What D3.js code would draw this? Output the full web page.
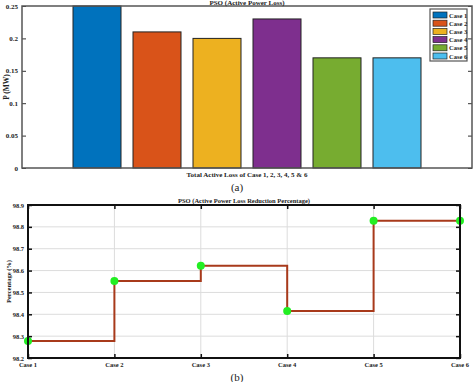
<!DOCTYPE html>
<html>
<head>
<meta charset="utf-8">
<script src="https://cdn.jsdelivr.net/npm/d3@7"></script>
<style>
  body { margin: 0; background: #fff; }
  svg { display: block; }
  text { font-family: "Liberation Serif", "DejaVu Serif", serif; font-weight: bold; fill: #222; }
</style>
</head>
<body>
<svg id="chart" width="474" height="382"></svg>
<script>
// datos del grafico (a)
const cases = ["Case 1", "Case 2", "Case 3", "Case 4", "Case 5", "Case 6"];
const lossMW = [0.25, 0.21, 0.20, 0.23, 0.17, 0.17];
const barColors = ["#0072bd", "#d95319", "#edb120", "#7e2f8e", "#77ac30", "#4dbeee"];
const lossTicks = [0, 0.05, 0.1, 0.15, 0.2, 0.25];

// datos del grafico (b)
const reductionPct = [98.278, 98.552, 98.622, 98.415, 98.828, 98.828];
const pctTicks = [98.2, 98.3, 98.4, 98.5, 98.6, 98.7, 98.8, 98.9];

const svg = d3.select("#chart");

// ---------- (a) barras ----------
const a = { left: 22, right: 472, top: 6, bottom: 168 };
const xa = d3.scaleLinear().domain([-0.25, 7.25]).range([a.left, a.right]);
const ya = d3.scaleLinear().domain([0, 0.25]).range([a.bottom, a.top]);
const ga = svg.append("g");

ga.selectAll("rect.bar")
  .data(lossMW)
  .enter()
  .append("rect")
  .attr("class", "bar")
  .attr("x", (d, i) => xa(i + 1 - 0.4))
  .attr("width", xa(0.8) - xa(0))
  .attr("y", d => ya(d))
  .attr("height", d => ya(0) - ya(d))
  .style("fill", (d, i) => barColors[i])
  .style("stroke", "#222")
  .style("stroke-width", 1);

// ejes izquierdo y derecho con ticks hacia dentro
ga.append("g")
  .attr("transform", `translate(${a.left},0)`)
  .call(d3.axisRight(ya).tickValues(lossTicks).tickSize(4).tickFormat(""))
  .call(g => g.select(".domain").remove())
  .call(g => g.selectAll("line").style("stroke", "#333"));
ga.append("g")
  .attr("transform", `translate(${a.right},0)`)
  .call(d3.axisLeft(ya).tickValues(lossTicks).tickSize(4).tickFormat(""))
  .call(g => g.select(".domain").remove())
  .call(g => g.selectAll("line").style("stroke", "#333"));

ga.selectAll("text.ytick")
  .data(lossTicks)
  .enter()
  .append("text")
  .attr("class", "ytick")
  .attr("x", a.left - 4)
  .attr("y", d => ya(d) + 2.5)
  .attr("text-anchor", "end")
  .style("font-size", "7px")
  .text(d => d3.format("")(d));

ga.append("rect")
  .attr("x", a.left).attr("y", a.top)
  .attr("width", a.right - a.left).attr("height", a.bottom - a.top)
  .style("fill", "none").style("stroke", "#555").style("stroke-width", 1.5);

ga.append("text")
  .attr("x", 247).attr("y", 4.5)
  .attr("text-anchor", "middle")
  .style("font-size", "7px")
  .text("PSO (Active Power Loss)");

ga.append("text")
  .attr("x", 247).attr("y", 177)
  .attr("text-anchor", "middle")
  .style("font-size", "7px")
  .text("Total Active Loss of Case 1, 2, 3, 4, 5 & 6");

ga.append("text")
  .attr("transform", `translate(9,${(a.top + a.bottom) / 2}) rotate(-90)`)
  .attr("text-anchor", "middle")
  .style("font-size", "7.5px")
  .text("P (MW)");

// leyenda
const leg = ga.append("g").attr("transform", "translate(430,9)");
leg.append("rect")
  .attr("width", 37).attr("height", 52)
  .style("fill", "#fff").style("stroke", "#555").style("stroke-width", 1.2);
const items = leg.selectAll("g.item")
  .data(cases)
  .enter()
  .append("g")
  .attr("class", "item")
  .attr("transform", (d, i) => `translate(3,${3 + i * 8.2})`);
items.append("rect")
  .attr("width", 14).attr("height", 6)
  .style("fill", (d, i) => barColors[i])
  .style("stroke", "#222").style("stroke-width", 0.7);
items.append("text")
  .attr("x", 16).attr("y", 5.5)
  .style("font-size", "6.5px")
  .text(d => d);

svg.append("text")
  .attr("x", 237).attr("y", 191)
  .attr("text-anchor", "middle")
  .style("font-size", "11px")
  .style("font-weight", "normal")
  .text("(a)");

// ---------- (b) escalones ----------
const b = { left: 28, right: 460, top: 205, bottom: 358 };
const xb = d3.scalePoint().domain(cases).range([b.left, b.right]);
const yb = d3.scaleLinear().domain([98.2, 98.9]).range([b.bottom, b.top]);
const gb = svg.append("g");

// rejilla
gb.selectAll("line.hgrid")
  .data(pctTicks)
  .enter()
  .append("line")
  .attr("x1", b.left).attr("x2", b.right)
  .attr("y1", d => yb(d)).attr("y2", d => yb(d))
  .style("stroke", "#dcdcdc").style("stroke-width", 1);
gb.selectAll("line.vgrid")
  .data(cases)
  .enter()
  .append("line")
  .attr("x1", d => xb(d)).attr("x2", d => xb(d))
  .attr("y1", b.top).attr("y2", b.bottom)
  .style("stroke", "#dcdcdc").style("stroke-width", 1);

const pts = cases.map((c, i) => [xb(c), yb(reductionPct[i])]);
gb.append("path")
  .attr("d", d3.line().curve(d3.curveStepAfter)(pts))
  .style("fill", "none")
  .style("stroke", "#a83a1b")
  .style("stroke-width", 2);

gb.selectAll("circle")
  .data(pts)
  .enter()
  .append("circle")
  .attr("cx", d => d[0]).attr("cy", d => d[1])
  .attr("r", 4)
  .style("fill", "#22ee22");

// ticks hacia dentro en los cuatro lados
gb.append("g").attr("transform", `translate(${b.left},0)`)
  .call(d3.axisRight(yb).tickValues(pctTicks).tickSize(4).tickFormat(""))
  .call(g => g.select(".domain").remove())
  .call(g => g.selectAll("line").style("stroke", "#111").style("stroke-width", 1.5));
gb.append("g").attr("transform", `translate(${b.right},0)`)
  .call(d3.axisLeft(yb).tickValues(pctTicks).tickSize(4).tickFormat(""))
  .call(g => g.select(".domain").remove())
  .call(g => g.selectAll("line").style("stroke", "#111").style("stroke-width", 1.5));
gb.append("g").attr("transform", `translate(0,${b.bottom})`)
  .call(d3.axisTop(xb).tickSize(4).tickFormat(""))
  .call(g => g.select(".domain").remove())
  .call(g => g.selectAll("line").style("stroke", "#111").style("stroke-width", 1.5));
gb.append("g").attr("transform", `translate(0,${b.top})`)
  .call(d3.axisBottom(xb).tickSize(4).tickFormat(""))
  .call(g => g.select(".domain").remove())
  .call(g => g.selectAll("line").style("stroke", "#111").style("stroke-width", 1.5));

gb.append("rect")
  .attr("x", b.left).attr("y", b.top)
  .attr("width", b.right - b.left).attr("height", b.bottom - b.top)
  .style("fill", "none").style("stroke", "#111").style("stroke-width", 2);

gb.selectAll("text.ytick")
  .data(pctTicks)
  .enter()
  .append("text")
  .attr("class", "ytick")
  .attr("x", b.left - 4)
  .attr("y", d => yb(d) + 2.5)
  .attr("text-anchor", "end")
  .style("font-size", "6.5px")
  .text(d => d3.format(".1f")(d));

gb.selectAll("text.xtick")
  .data(cases)
  .enter()
  .append("text")
  .attr("class", "xtick")
  .attr("x", d => xb(d))
  .attr("y", b.bottom + 9)
  .attr("text-anchor", "middle")
  .style("font-size", "6.5px")
  .text(d => d);

gb.append("text")
  .attr("x", 244).attr("y", 203)
  .attr("text-anchor", "middle")
  .style("font-size", "6.5px")
  .text("PSO (Active Power Loss Reduction Percentage)");

gb.append("text")
  .attr("transform", `translate(11,${(b.top + b.bottom) / 2}) rotate(-90)`)
  .attr("text-anchor", "middle")
  .style("font-size", "6.5px")
  .text("Percentage (%)");

svg.append("text")
  .attr("x", 237).attr("y", 381)
  .attr("text-anchor", "middle")
  .style("font-size", "11px")
  .style("font-weight", "normal")
  .text("(b)");
</script>
</body>
</html>
